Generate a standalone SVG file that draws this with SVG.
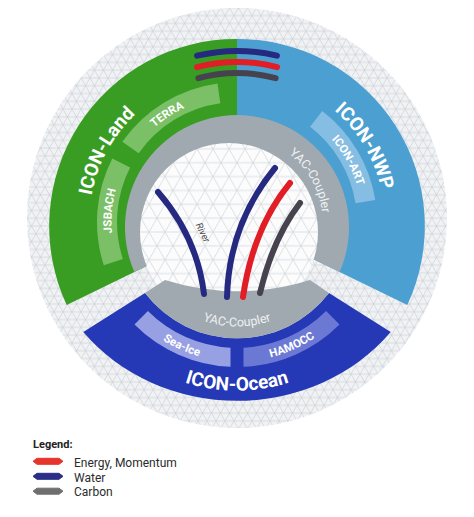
<svg xmlns="http://www.w3.org/2000/svg" width="474" height="517" viewBox="0 0 474 517">
<style>
text{font-family:Roboto,"Liberation Sans",Arial,sans-serif}
.big{font-size:19px;font-weight:700;fill:#fff}
.sub{font-size:11.5px;font-weight:700;fill:#fff}
.yac{font-size:12.5px;fill:#eef1f3}
.flux{fill:none;stroke-width:6;stroke-linecap:round}
.water{stroke:#252a80}
.energy{stroke:#e11d26}
.carbon{stroke:#46434f}
.lg{font-size:12px;fill:#2b2b2b}
.band-land{fill:#7bbf66}
.band-nwp{fill:#86bde2}
</style>
<defs>
<pattern id="meshFine" patternUnits="userSpaceOnUse" width="9" height="15.588">
<rect width="9" height="15.588" fill="#f0f2f4"/>
<path d="M0 0H9M0 7.794H9M0 15.588H9M0 0L9 15.588M9 0L0 15.588" stroke="#bec3cb" stroke-width="0.5" fill="none"/>
</pattern>
<pattern id="meshCoarse" patternUnits="userSpaceOnUse" x="229" y="232" width="16" height="27.713">
<rect width="16" height="27.713" fill="#fcfcfd"/>
<path d="M0 0H16M0 13.856H16M0 27.713H16M0 0L16 27.713M16 0L0 27.713" stroke="#cdd1d7" stroke-width="0.7" fill="none"/>
</pattern>
<path id="pLand" d="M95.1 264 A148 148 0 0 1 195 80.1"/>
<path id="pNwp" d="M273.6 78.6 A148 148 0 0 1 380.4 258.6"/>
<path id="pTerra" d="M120.6 175 A125.5 125.5 0 0 1 241.4 96.6"/>
<path id="pJsbach" d="M128.3 284.8 A125.5 125.5 0 0 1 140.9 141.3"/>
<path id="pArt" d="M292 109.2 A125.5 125.5 0 0 1 361.8 235.1"/>
<path id="pYacTop" d="M260 139.6 A85.5 85.5 0 0 1 319.4 245"/>
<path id="pYacBot" d="M163.1 295.9 A104.5 104.5 0 0 0 310.9 295.9"/>
<path id="pSeaIce" d="M111.6 283.2 A139.5 139.5 0 0 0 275.4 356.1"/>
<path id="pHamocc" d="M198.6 356.1 A139.5 139.5 0 0 0 362.4 283.2"/>
<path id="pOcean" d="M117.7 341.3 A168.7 168.7 0 0 0 356.3 341.3"/>
</defs>

<g id="globe">
<circle cx="237" cy="218" r="210" fill="url(#meshFine)"/>
</g>

<g id="icon-land">
<path d="M237 222 L66.7 305 A187 187 0 0 1 237 39 Z" fill="#3a9d23"/>
</g>
<g id="icon-nwp">
<path d="M237 222 L237 39 A187 187 0 0 1 407.3 305 Z" fill="#4b9fd1"/>
</g>
<g id="yac-coupler-upper">
<path d="M237 222 L134.4 272 A112 112 0 1 1 339.6 272 Z" fill="#a0a9b0"/>
</g>
<g id="icon-ocean">
<path d="M83.3 332 A195 179 0 0 0 390.7 332 L329 293 A116 116 0 0 1 145 293 Z" fill="#2538b6"/>
</g>
<g id="inner-globe">
<circle cx="229" cy="232" r="89" fill="url(#meshCoarse)"/>
</g>
<g id="yac-coupler-lower">
<path d="M145 293 A116 116 0 0 0 329 293 L310 280 A240 240 0 0 1 165 280 Z" fill="#a0a9b0"/>
</g>

<g id="terra">
<path class="band-land" d="M122.3 141.7 A140 140 0 0 1 217.5 83.4 L220.3 103.2 A120 120 0 0 0 138.7 153.2 Z"/>
<text class="sub"><textPath href="#pTerra" startOffset="50%" text-anchor="middle">TERRA</textPath></text>
</g>
<g id="jsbach">
<path class="band-land" d="M103.8 265.3 A140 140 0 0 1 112.3 158.4 L130.1 167.5 A120 120 0 0 0 122.9 259.1 Z"/>
<text class="sub"><textPath href="#pJsbach" startOffset="50%" text-anchor="middle">JSBACH</textPath></text>
</g>
<g id="icon-art">
<path class="band-nwp" d="M322.2 110.9 A140 140 0 0 1 375.3 200.1 L355.5 203.2 A120 120 0 0 0 310.1 126.8 Z"/>
<text class="sub"><textPath href="#pArt" startOffset="50%" text-anchor="middle">ICON-ART</textPath></text>
</g>
<g id="sea-ice">
<path d="M230.5 366.8 A145 145 0 0 1 134.5 324.5 L147.9 311.1 A126 126 0 0 0 230.5 347.8 Z" fill="#97a0e2"/>
<text class="sub"><textPath href="#pSeaIce" startOffset="50%" text-anchor="middle">Sea-Ice</textPath></text>
</g>
<g id="hamocc">
<path d="M243.5 366.8 A145 145 0 0 0 339.5 324.5 L326.1 311.1 A126 126 0 0 1 243.5 347.8 Z" fill="#6c79d4"/>
<text class="sub"><textPath href="#pHamocc" startOffset="50%" text-anchor="middle">HAMOCC</textPath></text>
</g>

<g id="labels">
<text class="big"><textPath href="#pLand" startOffset="50%" text-anchor="middle">ICON-Land</textPath></text>
<text class="big"><textPath href="#pNwp" startOffset="50%" text-anchor="middle">ICON-NWP</textPath></text>
<text class="big"><textPath href="#pOcean" startOffset="50%" text-anchor="middle">ICON-Ocean</textPath></text>
<text class="yac"><textPath href="#pYacTop" startOffset="50%" text-anchor="middle">YAC-Coupler</textPath></text>
<text class="yac"><textPath href="#pYacBot" startOffset="50%" text-anchor="middle">YAC-Coupler</textPath></text>
</g>

<g id="connectors">
<path class="flux water" d="M197.1 55.7 A171 171 0 0 1 276.9 55.7"/>
<path class="flux energy" d="M196.9 67.1 A160 160 0 0 1 277.1 67.1"/>
<path class="flux carbon" d="M198.4 78.1 A149 149 0 0 1 275.6 78.1"/>
<path class="flux water" d="M158 192 Q197 237 204 294"/>
<path class="flux water" d="M275 168 Q229 224 227 297"/>
<path class="flux energy" d="M290 183 Q253 228 243 297"/>
<path class="flux carbon" d="M300 203 Q273 238 260 293"/>
<text transform="translate(200 234) rotate(64)" font-size="9.5" font-style="italic" fill="#4a4a4a" text-anchor="middle">River</text>
</g>

<g id="legend">
<text x="33" y="448" font-size="11" font-weight="700" fill="#222">Legend:</text>
<path d="M33 461.3 L37 458.3 H59 L63 461.3 L59 464.3 H37 Z" fill="#e5352c" stroke="#e5352c" stroke-linejoin="round"/>
<text class="lg" x="74" y="466.5">Energy, Momentum</text>
<path d="M33 476.3 L37 473.3 H59 L63 476.3 L59 479.3 H37 Z" fill="#2b2e86" stroke="#2b2e86" stroke-linejoin="round"/>
<text class="lg" x="74" y="481.5">Water</text>
<path d="M33 491.2 L37 488.2 H59 L63 491.2 L59 494.2 H37 Z" fill="#6f6f6f" stroke="#6f6f6f" stroke-linejoin="round"/>
<text class="lg" x="74" y="496">Carbon</text>
</g>
</svg>
